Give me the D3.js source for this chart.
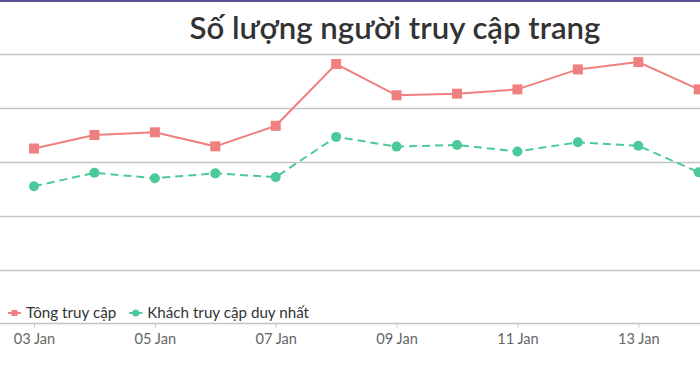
<!DOCTYPE html>
<html>
<head>
<meta charset="utf-8">
<script src="https://cdn.jsdelivr.net/npm/d3@7"></script>
<style>
  html, body { margin: 0; padding: 0; background: #ffffff; }
  svg { display: block; }
</style>
</head>
<body>
<script>
const titleText = "Số lượng người truy cập trang";
const dates = ["2017-01-03","2017-01-04","2017-01-05","2017-01-06","2017-01-07","2017-01-08",
               "2017-01-09","2017-01-10","2017-01-11","2017-01-12","2017-01-13","2017-01-14"];
const totalVisits = [650, 700, 710, 658, 734, 963, 847, 853, 869, 943, 970, 869];
const uniqueVisits = [510, 560, 540, 558, 544, 693, 657, 663, 639, 673, 660, 562];
const seriesNames = ["Tông truy cập", "Khách truy cập duy nhất"];
const yTicks = [0, 200, 400, 600, 800, 1000];
const xTickDates = ["2017-01-03","2017-01-05","2017-01-07","2017-01-09","2017-01-11","2017-01-13"];

const W = 700, H = 366;
const parse = d3.utcParse("%Y-%m-%d");
const fmt = d3.utcFormat("%d %b");

const svg = d3.select("body").append("svg").attr("width", W).attr("height", H);
const font = "Lato, 'Open Sans', sans-serif";

// top purple border
svg.append("rect").attr("x", 0).attr("y", 0).attr("width", W).attr("height", 2).attr("fill", "#5b5194");

// scales
const x = d3.scaleUtc()
  .domain([parse("2017-01-03"), parse("2017-01-13")])
  .range([34, 638.3]);
const y = d3.scaleLinear().domain([0, 1000]).range([324, 54]);

// gridlines
svg.append("g").selectAll("line").data(yTicks.filter(d => d > 0)).join("line")
  .attr("x1", 0).attr("x2", W)
  .attr("y1", d => Math.round(y(d)) + 0.5).attr("y2", d => Math.round(y(d)) + 0.5)
  .attr("stroke", "#c4c4c4").attr("stroke-width", 1.5);

// x axis
const xAxis = d3.axisBottom(x)
  .tickValues(xTickDates.map(parse))
  .tickFormat(fmt)
  .tickSize(4)
  .tickSizeOuter(0);
const gx = svg.append("g").attr("transform", `translate(0,${Math.round(y(0)) - 0.5})`).call(xAxis);
gx.select(".domain").remove();
gx.append("line").attr("x1", 0).attr("x2", W).attr("y1", 0).attr("y2", 0)
  .attr("stroke", "#c4c4c4").attr("stroke-width", 1.5);
gx.selectAll(".tick line").attr("stroke", "#c4c4c4");
gx.selectAll(".tick text")
  .attr("fill", "#666").attr("font-family", font).attr("font-size", 14.6).attr("dy", "0.9em");

// lines
const pts1 = dates.map((d, i) => ({ d: parse(d), v: totalVisits[i] }));
const pts2 = dates.map((d, i) => ({ d: parse(d), v: uniqueVisits[i] }));
const line = d3.line().x(p => x(p.d)).y(p => y(p.v));

const red = "#F08080", green = "#4CC998";

svg.append("path").datum(pts1).attr("d", line)
  .attr("fill", "none").attr("stroke", red).attr("stroke-width", 2);
svg.append("path").datum(pts2).attr("d", line)
  .attr("fill", "none").attr("stroke", green).attr("stroke-width", 2)
  .attr("stroke-dasharray", "8,5");

svg.append("g").selectAll("rect").data(pts1).join("rect")
  .attr("x", p => x(p.d) - 5).attr("y", p => y(p.v) - 5)
  .attr("width", 10).attr("height", 10).attr("fill", red);
svg.append("g").selectAll("circle").data(pts2).join("circle")
  .attr("cx", p => x(p.d)).attr("cy", p => y(p.v)).attr("r", 5).attr("fill", green);

// title
const t = svg.append("text").text(titleText)
  .attr("x", 395).attr("y", 39).attr("text-anchor", "middle")
  .attr("font-family", font).attr("font-weight", 600).attr("font-size", 28).attr("fill", "#333");
const tw = t.node().getComputedTextLength();
t.attr("font-size", 28 * 411 / tw);

// legend
const leg = svg.append("g").attr("transform", "translate(8,313)");
const items = [
  { name: seriesNames[0], color: red, shape: "square" },
  { name: seriesNames[1], color: green, shape: "circle" }
];
let lx = 0;
items.forEach((it, i) => {
  const g = leg.append("g").attr("transform", `translate(${lx},0)`);
  g.append("line").attr("x1", 0).attr("x2", 13).attr("y1", 0).attr("y2", 0)
    .attr("stroke", it.color).attr("stroke-width", 2);
  if (it.shape === "square") {
    g.append("rect").attr("x", 3.5).attr("y", -3).attr("width", 6).attr("height", 6).attr("fill", it.color);
  } else {
    g.append("circle").attr("cx", 6.5).attr("cy", 0).attr("r", 3.5).attr("fill", it.color);
  }
  const tx = g.append("text").text(it.name).attr("x", 18).attr("y", 0).attr("dy", "0.35em")
    .attr("font-family", font).attr("font-size", 15.2).attr("fill", "#333");
  lx += 18 + tx.node().getComputedTextLength() + 13;
});
</script>
</body>
</html>
